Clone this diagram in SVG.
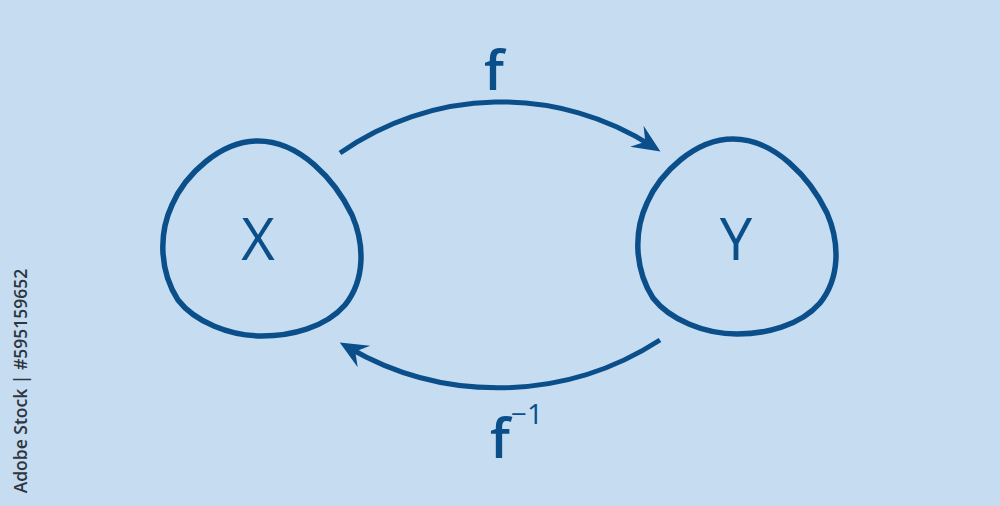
<svg xmlns="http://www.w3.org/2000/svg" width="1000" height="506" viewBox="0 0 1000 506">
<style>
.blob{fill:none;stroke:#0b4f8a;stroke-width:5.5;stroke-linejoin:round}
.conn{fill:none;stroke:#0b4f8a;stroke-width:5;stroke-linecap:butt}
.lbl{font-family:"Open Sans","Noto Sans",sans-serif;fill:#0b4f8a;font-size:58px;font-weight:400;text-anchor:middle}
.fn{font-family:"Open Sans","Noto Sans",sans-serif;fill:#0b4f8a;font-size:55px;font-weight:600}
.wm{font-family:"Open Sans","Noto Sans",sans-serif;fill:#2e3640;font-size:17.5px;font-weight:600}
</style>
<defs>
<path id="blobShape" d="M 258 141 C 300 141, 335 180, 352 215 C 365 245, 365 280, 345 305 C 325 328, 290 336, 262 336 C 230 336, 195 322, 178 300 C 160 272, 158 235, 172 205 C 185 175, 220 141, 258 141 Z"/>
<marker id="arrow" markerUnits="userSpaceOnUse" markerWidth="40" markerHeight="40" viewBox="-20 -20 40 40" refX="0" refY="0" orient="auto">
<path d="M 10 0 L -18 -12.5 L -8 0 L -18 12.5 Z" fill="#0b4f8a"/>
</marker>
</defs>
<rect x="0" y="0" width="1000" height="506" fill="#c6ddf1"/>
<g id="node-X">
<use href="#blobShape" class="blob"/>
<text class="lbl" x="258" y="260">X</text>
</g>
<g id="node-Y">
<use href="#blobShape" class="blob" transform="translate(475,-2)"/>
<text class="lbl" x="736" y="260">Y</text>
</g>
<g id="connectors">
<path class="conn" d="M 340 153 A 280 280 0 0 1 652 146" marker-end="url(#arrow)"/>
<path class="conn" d="M 660 340 A 298 298 0 0 1 348.4 347.5" marker-end="url(#arrow)"/>
<text class="fn" x="494" y="90" text-anchor="middle">f</text>
<text class="fn"><tspan x="500" y="458" text-anchor="middle">f</tspan><tspan x="511" y="424" font-size="28" font-weight="500">−1</tspan></text>
</g>
<text class="wm" transform="translate(27,381) rotate(-90)" text-anchor="middle">Adobe Stock | #595159652</text>
</svg>
